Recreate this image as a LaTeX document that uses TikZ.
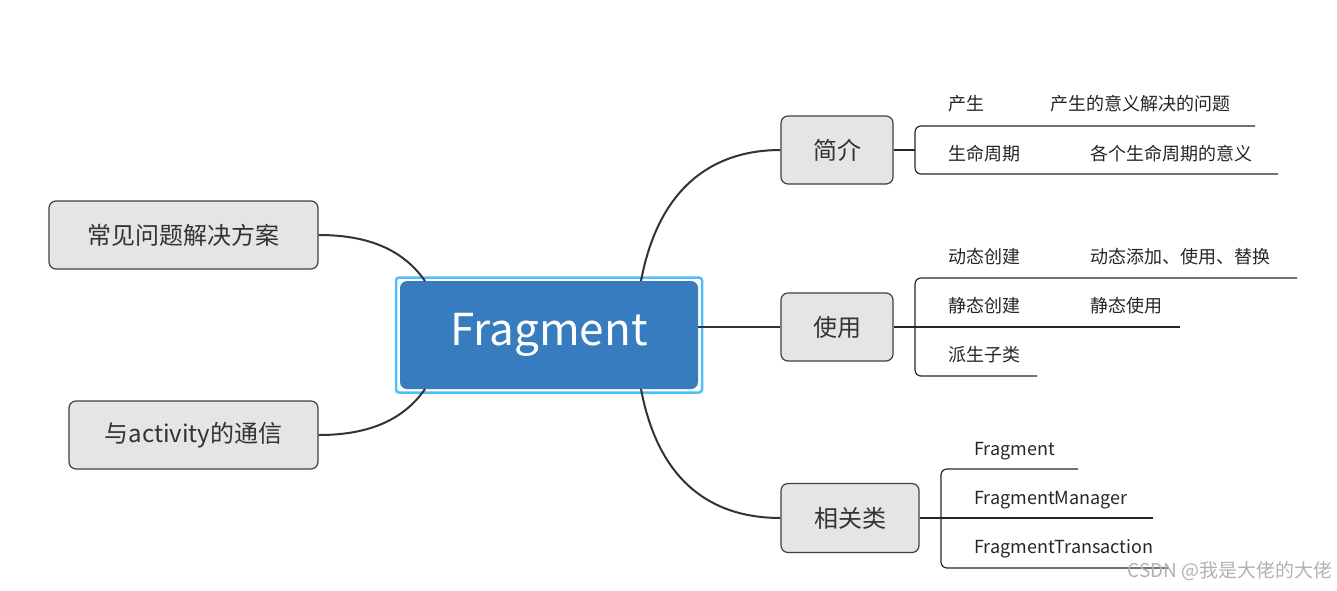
\documentclass[tikz,border=0pt]{standalone}
\usepackage{fontspec}
\setmainfont{Noto Sans CJK SC}
\definecolor{hl}{RGB}{80,190,250}
\definecolor{mainblue}{RGB}{55,124,190}
\begin{document}
\begin{tikzpicture}[x=1pt,y=-1pt,
  box/.style={draw=black!75,fill=black!10,rounded corners=7pt,line width=1.2pt,inner sep=0pt,font=\fontsize{24}{28}\selectfont,text=black!80},
  con/.style={line width=2pt,draw=black!80},
  br/.style={line width=1.2pt,draw=black!85,rounded corners=6pt},
  ul/.style={line width=1.2pt,draw=black!85},
  lab/.style={anchor=base west,font=\fontsize{18}{21}\selectfont,text=black!85,inner sep=0pt}]
\useasboundingbox (0,0) rectangle (1337,590);
% central
\node[draw=hl,line width=2.5pt,rounded corners=3pt,minimum width=306pt,minimum height=115pt] (co) at (549,335) {};
\node[fill=mainblue,rounded corners=7pt,minimum width=298pt,minimum height=108pt,text=white,font=\fontsize{44}{48}\selectfont] (c) at (549,335) {Fragment};
\node[box,minimum width=112pt,minimum height=68pt] (a) at (837,150) {简介};
\node[box,minimum width=112pt,minimum height=68pt] (b) at (837,327) {使用};
\node[box,minimum width=138pt,minimum height=69pt] (d) at (850,518) {相关类};
\node[box,minimum width=269pt,minimum height=68pt] (l1) at (183.5,235) {常见问题解决方案};
\node[box,minimum width=249pt,minimum height=68pt] (l2) at (193.5,435) {与activity的通信};
% connectors
\coordinate (ce) at (698,327);
\draw[con] (641,281) .. controls (660,180) and (720,150) .. (a.west);
\draw[con] (ce) -- (b.west);
\draw[con] (641,389) .. controls (660,490) and (720,518) .. (d.west);
\draw[con] (425,281) .. controls (400,245) and (360,235) .. (l1.east);
\draw[con] (425,389) .. controls (400,425) and (360,435) .. (l2.east);
% 简介 bracket
\coordinate (ja) at (915,150);
\draw[ul] (a.east) -- (ja);
\draw[br] (1255,126) -- (915,126) -- (915,174) -- (1278,174);
\node[lab] (t1) at (948,110) {产生};
\node[lab] (t2) at (1050,110) {产生的意义解决的问题};
\node[lab] (t3) at (948,160) {生命周期};
\node[lab] (t4) at (1090,160) {各个生命周期的意义};
% 使用 bracket
\coordinate (jb) at (915,327);
\draw[ul] (b.east) -- (jb);
\draw[br] (1297,278) -- (915,278) -- (915,376) -- (1037,376);
\draw[ul] (915,327) -- (1180,327);
\node[lab] (u1) at (948,263) {动态创建};
\node[lab] (u2) at (1090,263) {动态添加、使用、替换};
\node[lab] (u3) at (948,312) {静态创建};
\node[lab] (u4) at (1090,312) {静态使用};
\node[lab] (u5) at (948,361) {派生子类};
% 相关类 bracket
\coordinate (jd) at (941,518);
\draw[ul] (d.east) -- (jd);
\draw[br] (1078,469) -- (941,469) -- (941,568) -- (1168,568);
\draw[ul] (941,518) -- (1153,518);
\node[lab] (v1) at (974,455) {Fragment};
\node[lab] (v2) at (974,504) {FragmentManager};
\node[lab] (v3) at (974,553) {FragmentTransaction};
\node[anchor=base east,text=black!30,font=\fontsize{19}{21}\selectfont,inner sep=0pt] (wm) at (1333,577) {CSDN @我是大佬的大佬};
\end{tikzpicture}
\end{document}
